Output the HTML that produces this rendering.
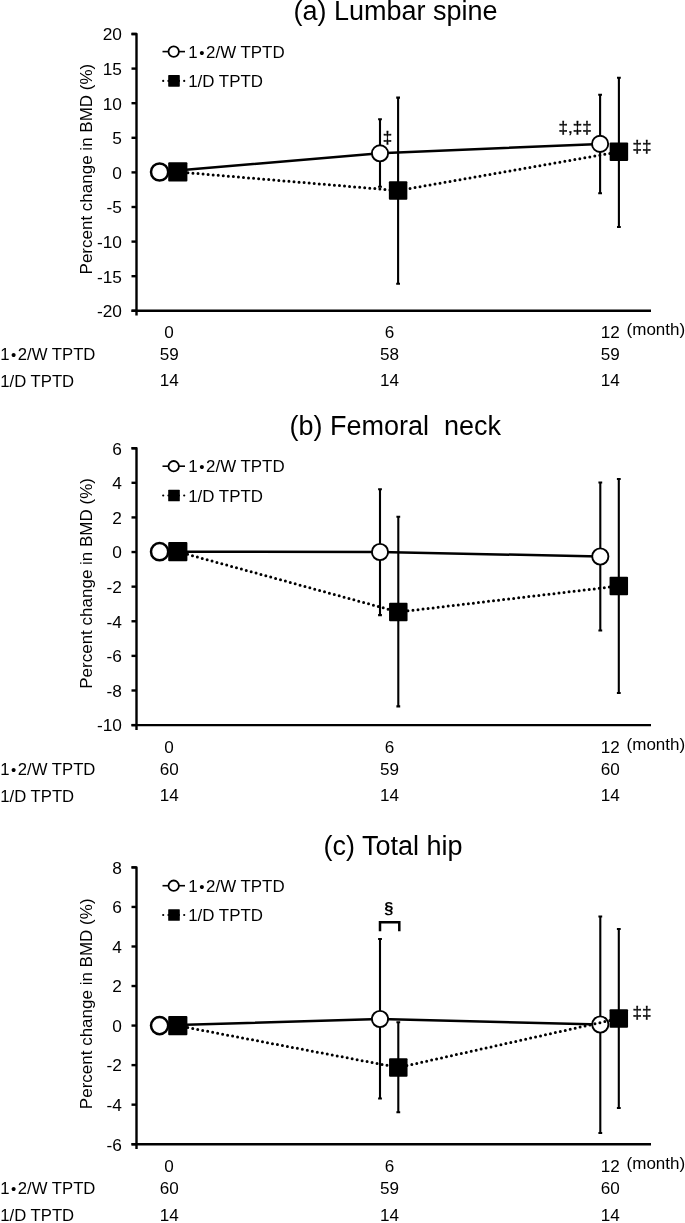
<!DOCTYPE html>
<html lang="en"><head><meta charset="utf-8"><title>Percent change in BMD</title>
<style>
html,body{margin:0;padding:0;background:#fff}
svg{display:block;font-family:"Liberation Sans", sans-serif;fill:#000}
svg text{fill:#000}
</style></head>
<body>
<svg width="685" height="1223" viewBox="0 0 685 1223">
<rect width="685" height="1223" fill="#fff"/>
<g>
<text x="395.5" y="20.1" font-size="27" text-anchor="middle">(a) Lumbar spine</text>
<path d="M131.5 34 H136.5 V315.6 M131.5 310.8 H651" stroke="#000" stroke-width="2.4" stroke-linejoin="round" fill="none"/>
<path d="M131.5 34.00 H136.5" stroke="#000" stroke-width="2.4"/>
<text x="121.9" y="40.30" font-size="17.3" text-anchor="end">20</text>
<path d="M131.5 68.60 H136.5" stroke="#000" stroke-width="2.4"/>
<text x="121.9" y="74.90" font-size="17.3" text-anchor="end">15</text>
<path d="M131.5 103.20 H136.5" stroke="#000" stroke-width="2.4"/>
<text x="121.9" y="109.50" font-size="17.3" text-anchor="end">10</text>
<path d="M131.5 137.80 H136.5" stroke="#000" stroke-width="2.4"/>
<text x="121.9" y="144.10" font-size="17.3" text-anchor="end">5</text>
<path d="M131.5 172.40 H136.5" stroke="#000" stroke-width="2.4"/>
<text x="121.9" y="178.70" font-size="17.3" text-anchor="end">0</text>
<path d="M131.5 207.00 H136.5" stroke="#000" stroke-width="2.4"/>
<text x="121.9" y="213.30" font-size="17.3" text-anchor="end">-5</text>
<path d="M131.5 241.60 H136.5" stroke="#000" stroke-width="2.4"/>
<text x="121.9" y="247.90" font-size="17.3" text-anchor="end">-10</text>
<path d="M131.5 276.20 H136.5" stroke="#000" stroke-width="2.4"/>
<text x="121.9" y="282.50" font-size="17.3" text-anchor="end">-15</text>
<path d="M131.5 310.80 H136.5" stroke="#000" stroke-width="2.4"/>
<text x="121.9" y="317.10" font-size="17.3" text-anchor="end">-20</text>
<text transform="translate(92.4 169.1) rotate(-90)" font-size="17" text-anchor="middle">Percent change in BMD (%)</text>
<path d="M162.5 51.6 H185" stroke="#000" stroke-width="1.6"/>
<circle cx="173.7" cy="51.6" r="5.2" fill="#fff" stroke="#000" stroke-width="1.8"/>
<text x="188.2" y="57.7" font-size="16.9">1<tspan dx="1.6" font-size="15">•</tspan><tspan dx="1.6">2/W TPTD</tspan></text>
<path d="M163.2 80.9 H184.4" stroke="#000" stroke-width="2.2" stroke-linecap="round" stroke-dasharray="0 5.25"/>
<rect x="168.2" y="75.1" width="11.6" height="11.6" rx="0.6" fill="#000"/>
<text x="188.2" y="87.1" font-size="16.9">1/D TPTD</text>

<path d="M380 119.2 V186.7 M378.1 119.2 H381.9 M378.1 186.7 H381.9" stroke="#000" stroke-width="2.1" fill="none"/>
<path d="M600.1 94.7 V193.3 M598.2 94.7 H602.0 M598.2 193.3 H602.0" stroke="#000" stroke-width="2.1" fill="none"/>
<path d="M159.6 172 L380 153.3 L600.1 143.9" stroke="#000" stroke-width="2.5" fill="none"/>
<circle cx="159.6" cy="172" r="8.6" fill="#fff" stroke="#000" stroke-width="2.5"/>
<circle cx="380" cy="153.3" r="8.1" fill="#fff" stroke="#000" stroke-width="1.9"/>
<circle cx="600.1" cy="143.9" r="8.1" fill="#fff" stroke="#000" stroke-width="1.9"/>

<path d="M398.1 97.6 V283.8 M396.20000000000005 97.6 H400.0 M396.20000000000005 283.8 H400.0" stroke="#000" stroke-width="2.1" fill="none"/>
<path d="M618.9 77.8 V227 M617.0 77.8 H620.8 M617.0 227 H620.8" stroke="#000" stroke-width="2.1" fill="none"/>
<path d="M177.8 171.9 L398.1 190.6 L618.9 151.8" stroke="#000" stroke-width="3" fill="none" stroke-linecap="round" stroke-dasharray="0 5.07"/>
<rect x="168.20" y="162.30" width="19.2" height="19.2" rx="1" fill="#000"/>
<rect x="388.85" y="181.35" width="18.5" height="18.5" rx="1" fill="#000"/>
<rect x="609.65" y="142.55" width="18.5" height="18.5" rx="1" fill="#000"/>
<text x="169.0" y="337.8" font-size="17.1" text-anchor="middle">0</text>
<text x="389.4" y="337.8" font-size="17.1" text-anchor="middle">6</text>
<text x="610.3" y="337.8" font-size="17.1" text-anchor="middle">12</text>
<text x="626.6" y="335.40000000000003" font-size="17">(month)</text>
<text x="0.3" y="360.2" font-size="16.7">1<tspan dx="1.5" font-size="15">•</tspan><tspan dx="1.5">2/W TPTD</tspan></text>
<text x="0.3" y="386.8" font-size="16.7">1/D TPTD</text>
<text x="169.2" y="360.1" font-size="17.1" text-anchor="middle">59</text>
<text x="169.2" y="386.0" font-size="17.1" text-anchor="middle">14</text>
<text x="389.5" y="360.1" font-size="17.1" text-anchor="middle">58</text>
<text x="389.5" y="386.0" font-size="17.1" text-anchor="middle">14</text>
<text x="610.3" y="360.1" font-size="17.1" text-anchor="middle">59</text>
<text x="610.3" y="386.0" font-size="17.1" text-anchor="middle">14</text>
<text x="382.7" y="142.9" font-size="17" stroke="#111" stroke-width="0.35">‡</text><text x="558.5" y="132.6" font-size="17" stroke="#111" stroke-width="0.35">‡,‡‡</text><text x="632.6" y="151.7" font-size="17" stroke="#111" stroke-width="0.35">‡‡</text>
</g>
<g>
<text x="395.3" y="434.5" font-size="27" text-anchor="middle">(b) Femoral&#160; neck</text>
<path d="M131.5 448.2 H136.5 V729.9 M131.5 725.1 H651" stroke="#000" stroke-width="2.4" stroke-linejoin="round" fill="none"/>
<path d="M131.5 448.20 H136.5" stroke="#000" stroke-width="2.4"/>
<text x="121.9" y="454.50" font-size="17.3" text-anchor="end">6</text>
<path d="M131.5 482.81 H136.5" stroke="#000" stroke-width="2.4"/>
<text x="121.9" y="489.11" font-size="17.3" text-anchor="end">4</text>
<path d="M131.5 517.42 H136.5" stroke="#000" stroke-width="2.4"/>
<text x="121.9" y="523.72" font-size="17.3" text-anchor="end">2</text>
<path d="M131.5 552.04 H136.5" stroke="#000" stroke-width="2.4"/>
<text x="121.9" y="558.34" font-size="17.3" text-anchor="end">0</text>
<path d="M131.5 586.65 H136.5" stroke="#000" stroke-width="2.4"/>
<text x="121.9" y="592.95" font-size="17.3" text-anchor="end">-2</text>
<path d="M131.5 621.26 H136.5" stroke="#000" stroke-width="2.4"/>
<text x="121.9" y="627.56" font-size="17.3" text-anchor="end">-4</text>
<path d="M131.5 655.88 H136.5" stroke="#000" stroke-width="2.4"/>
<text x="121.9" y="662.17" font-size="17.3" text-anchor="end">-6</text>
<path d="M131.5 690.49 H136.5" stroke="#000" stroke-width="2.4"/>
<text x="121.9" y="696.79" font-size="17.3" text-anchor="end">-8</text>
<path d="M131.5 725.10 H136.5" stroke="#000" stroke-width="2.4"/>
<text x="121.9" y="731.40" font-size="17.3" text-anchor="end">-10</text>
<text transform="translate(92.4 583.4) rotate(-90)" font-size="17" text-anchor="middle">Percent change in BMD (%)</text>
<path d="M162.5 466.2 H185" stroke="#000" stroke-width="1.6"/>
<circle cx="173.7" cy="466.2" r="5.2" fill="#fff" stroke="#000" stroke-width="1.8"/>
<text x="188.2" y="472.3" font-size="16.9">1<tspan dx="1.6" font-size="15">•</tspan><tspan dx="1.6">2/W TPTD</tspan></text>
<path d="M163.2 495.5 H184.4" stroke="#000" stroke-width="2.2" stroke-linecap="round" stroke-dasharray="0 5.25"/>
<rect x="168.2" y="489.7" width="11.6" height="11.6" rx="0.6" fill="#000"/>
<text x="188.2" y="501.7" font-size="16.9">1/D TPTD</text>

<path d="M380 489.3 V615.1 M378.1 489.3 H381.9 M378.1 615.1 H381.9" stroke="#000" stroke-width="2.1" fill="none"/>
<path d="M600.3 482.5 V630.5 M598.4 482.5 H602.1999999999999 M598.4 630.5 H602.1999999999999" stroke="#000" stroke-width="2.1" fill="none"/>
<path d="M159.6 551.7 L380 552 L600.3 556.5" stroke="#000" stroke-width="2.5" fill="none"/>
<circle cx="159.6" cy="551.7" r="8.6" fill="#fff" stroke="#000" stroke-width="2.5"/>
<circle cx="380" cy="552" r="8.1" fill="#fff" stroke="#000" stroke-width="1.9"/>
<circle cx="600.3" cy="556.5" r="8.1" fill="#fff" stroke="#000" stroke-width="1.9"/>

<path d="M398.3 516.7 V706.4 M396.40000000000003 516.7 H400.2 M396.40000000000003 706.4 H400.2" stroke="#000" stroke-width="2.1" fill="none"/>
<path d="M618.8 479 V693 M616.9 479 H620.6999999999999 M616.9 693 H620.6999999999999" stroke="#000" stroke-width="2.1" fill="none"/>
<path d="M177.8 551.7 L398.3 612 L618.8 586" stroke="#000" stroke-width="3" fill="none" stroke-linecap="round" stroke-dasharray="0 5.07"/>
<rect x="168.20" y="542.10" width="19.2" height="19.2" rx="1" fill="#000"/>
<rect x="389.05" y="602.75" width="18.5" height="18.5" rx="1" fill="#000"/>
<rect x="609.55" y="576.75" width="18.5" height="18.5" rx="1" fill="#000"/>
<text x="169.0" y="752.5" font-size="17.1" text-anchor="middle">0</text>
<text x="389.4" y="752.5" font-size="17.1" text-anchor="middle">6</text>
<text x="610.3" y="752.5" font-size="17.1" text-anchor="middle">12</text>
<text x="626.6" y="750.1" font-size="17">(month)</text>
<text x="0.3" y="774.9" font-size="16.7">1<tspan dx="1.5" font-size="15">•</tspan><tspan dx="1.5">2/W TPTD</tspan></text>
<text x="0.3" y="801.5" font-size="16.7">1/D TPTD</text>
<text x="169.2" y="774.8" font-size="17.1" text-anchor="middle">60</text>
<text x="169.2" y="800.7" font-size="17.1" text-anchor="middle">14</text>
<text x="389.5" y="774.8" font-size="17.1" text-anchor="middle">59</text>
<text x="389.5" y="800.7" font-size="17.1" text-anchor="middle">14</text>
<text x="610.3" y="774.8" font-size="17.1" text-anchor="middle">60</text>
<text x="610.3" y="800.7" font-size="17.1" text-anchor="middle">14</text>

</g>
<g>
<text x="393" y="854.5" font-size="27" text-anchor="middle">(c) Total hip</text>
<path d="M131.5 867.4 H136.5 V1149.0 M131.5 1144.2 H651" stroke="#000" stroke-width="2.4" stroke-linejoin="round" fill="none"/>
<path d="M131.5 867.40 H136.5" stroke="#000" stroke-width="2.4"/>
<text x="121.9" y="873.70" font-size="17.3" text-anchor="end">8</text>
<path d="M131.5 906.94 H136.5" stroke="#000" stroke-width="2.4"/>
<text x="121.9" y="913.24" font-size="17.3" text-anchor="end">6</text>
<path d="M131.5 946.49 H136.5" stroke="#000" stroke-width="2.4"/>
<text x="121.9" y="952.79" font-size="17.3" text-anchor="end">4</text>
<path d="M131.5 986.03 H136.5" stroke="#000" stroke-width="2.4"/>
<text x="121.9" y="992.33" font-size="17.3" text-anchor="end">2</text>
<path d="M131.5 1025.57 H136.5" stroke="#000" stroke-width="2.4"/>
<text x="121.9" y="1031.87" font-size="17.3" text-anchor="end">0</text>
<path d="M131.5 1065.11 H136.5" stroke="#000" stroke-width="2.4"/>
<text x="121.9" y="1071.41" font-size="17.3" text-anchor="end">-2</text>
<path d="M131.5 1104.66 H136.5" stroke="#000" stroke-width="2.4"/>
<text x="121.9" y="1110.96" font-size="17.3" text-anchor="end">-4</text>
<path d="M131.5 1144.20 H136.5" stroke="#000" stroke-width="2.4"/>
<text x="121.9" y="1150.50" font-size="17.3" text-anchor="end">-6</text>
<text transform="translate(92.4 1003.8) rotate(-90)" font-size="17" text-anchor="middle">Percent change in BMD (%)</text>
<path d="M162.5 885.7 H185" stroke="#000" stroke-width="1.6"/>
<circle cx="173.7" cy="885.7" r="5.2" fill="#fff" stroke="#000" stroke-width="1.8"/>
<text x="188.2" y="891.8" font-size="16.9">1<tspan dx="1.6" font-size="15">•</tspan><tspan dx="1.6">2/W TPTD</tspan></text>
<path d="M163.2 915.0 H184.4" stroke="#000" stroke-width="2.2" stroke-linecap="round" stroke-dasharray="0 5.25"/>
<rect x="168.2" y="909.2" width="11.6" height="11.6" rx="0.6" fill="#000"/>
<text x="188.2" y="921.2" font-size="16.9">1/D TPTD</text>

<path d="M380 939 V1098.5 M378.1 939 H381.9 M378.1 1098.5 H381.9" stroke="#000" stroke-width="2.1" fill="none"/>
<path d="M600.3 916.5 V1133 M598.4 916.5 H602.1999999999999 M598.4 1133 H602.1999999999999" stroke="#000" stroke-width="2.1" fill="none"/>
<path d="M159.6 1025.6 L380 1019 L600.3 1024.5" stroke="#000" stroke-width="2.5" fill="none"/>
<circle cx="159.6" cy="1025.6" r="8.6" fill="#fff" stroke="#000" stroke-width="2.5"/>
<circle cx="380" cy="1019" r="8.1" fill="#fff" stroke="#000" stroke-width="1.9"/>
<circle cx="600.3" cy="1024.5" r="8.1" fill="#fff" stroke="#000" stroke-width="1.9"/>

<path d="M398.3 1022.3 V1112.2 M396.40000000000003 1022.3 H400.2 M396.40000000000003 1112.2 H400.2" stroke="#000" stroke-width="2.1" fill="none"/>
<path d="M618.8 929 V1108 M616.9 929 H620.6999999999999 M616.9 1108 H620.6999999999999" stroke="#000" stroke-width="2.1" fill="none"/>
<path d="M177.8 1025.7 L398.3 1067.5 L618.8 1018.5" stroke="#000" stroke-width="3" fill="none" stroke-linecap="round" stroke-dasharray="0 5.07"/>
<rect x="168.20" y="1016.10" width="19.2" height="19.2" rx="1" fill="#000"/>
<rect x="389.05" y="1058.25" width="18.5" height="18.5" rx="1" fill="#000"/>
<rect x="609.55" y="1009.25" width="18.5" height="18.5" rx="1" fill="#000"/>
<text x="169.0" y="1171.5" font-size="17.1" text-anchor="middle">0</text>
<text x="389.4" y="1171.5" font-size="17.1" text-anchor="middle">6</text>
<text x="610.3" y="1171.5" font-size="17.1" text-anchor="middle">12</text>
<text x="626.6" y="1169.1" font-size="17">(month)</text>
<text x="0.3" y="1193.8000000000002" font-size="16.7">1<tspan dx="1.5" font-size="15">•</tspan><tspan dx="1.5">2/W TPTD</tspan></text>
<text x="0.3" y="1220.8" font-size="16.7">1/D TPTD</text>
<text x="169.2" y="1193.7" font-size="17.1" text-anchor="middle">60</text>
<text x="169.2" y="1221.0" font-size="17.1" text-anchor="middle">14</text>
<text x="389.5" y="1193.7" font-size="17.1" text-anchor="middle">59</text>
<text x="389.5" y="1221.0" font-size="17.1" text-anchor="middle">14</text>
<text x="610.3" y="1193.7" font-size="17.1" text-anchor="middle">60</text>
<text x="610.3" y="1221.0" font-size="17.1" text-anchor="middle">14</text>
<path d="M380 931.2 V922.3 H399.3 V931.2" stroke="#000" stroke-width="2.5" fill="none"/><text x="388.8" y="914.3" font-size="16.5" font-weight="bold" text-anchor="middle">§</text><text x="632.6" y="1018.2" font-size="17" stroke="#111" stroke-width="0.35">‡‡</text>
</g>
</svg>
</body></html>
